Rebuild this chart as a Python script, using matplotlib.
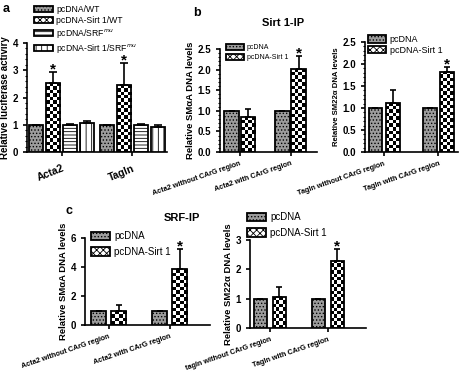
import numpy as np
import matplotlib
matplotlib.use("Agg")
import matplotlib.pyplot as plt
from matplotlib.ticker import AutoMinorLocator, FormatStrFormatter
from matplotlib.patches import Rectangle

plt.rcParams['font.family'] = ['Liberation Sans', 'DejaVu Sans']
plt.rcParams['hatch.linewidth'] = 0.6

# ---------------- data ----------------
a_groups = ["Acta2", "Tagln"]
a_series = ["pcDNA/WT", "pcDNA-Sirt 1/WT", "pcDNA/SRF$^{mu}$", "pcDNA-Sirt 1/SRF$^{mu}$"]
a_vals = [[1.0, 1.0], [2.52, 2.45], [1.0, 1.0], [1.08, 0.93]]
a_errs = [[0.0, 0.0], [0.42, 0.82], [0.02, 0.03], [0.06, 0.07]]

b1_groups = ["Acta2 without CArG region", "Acta2 with CArG region"]
b1_vals = [[1.0, 1.0], [0.85, 2.02]]
b1_errs = [[0.0, 0.0], [0.20, 0.32]]

b2_groups = ["Tagln without CArG region", "Tagln with CArG region"]
b2_vals = [[1.0, 1.0], [1.12, 1.82]]
b2_errs = [[0.0, 0.0], [0.30, 0.12]]

c1_groups = ["Acta2 without CArG region", "Acta2 with CArG region"]
c1_vals = [[1.0, 1.0], [1.0, 3.85]]
c1_errs = [[0.0, 0.0], [0.35, 1.40]]

c2_groups = ["tagln without CArG region", "Tagln with CArG region"]
c2_vals = [[1.0, 1.0], [1.05, 2.30]]
c2_errs = [[0.0, 0.0], [0.35, 0.40]]

ip_series = ["pcDNA", "pcDNA-Sirt 1"]
star_a = [(1, 0), (1, 1)]
star_b1 = [(1, 1)]
star_b2 = [(1, 1)]
star_c1 = [(1, 1)]
star_c2 = [(1, 1)]

W, H = 474, 374
fig = plt.figure(figsize=(W / 100, H / 100), dpi=100)

CHECKER_BARS = []


def add_ax(x0, x1, ytop, ybot):
    return fig.add_axes([x0 / W, 1 - ybot / H, (x1 - x0) / W, (ybot - ytop) / H])


def checker(ax, bar, cell_px=3.4):
    bb = bar.get_window_extent()
    nx = max(2, int(round(bb.width / cell_px)))
    ny = max(2, int(round(bb.height / cell_px)))
    img = (np.add.outer(np.arange(ny), np.arange(nx)) % 2).astype(float)
    x0, y0 = bar.get_x(), bar.get_y()
    w, h = bar.get_width(), bar.get_height()
    xl, yl = ax.get_xlim(), ax.get_ylim()
    im = ax.imshow(img, cmap='gray', vmin=0, vmax=1, extent=[x0, x0 + w, y0, y0 + h],
                   origin='lower', interpolation='nearest', aspect='auto', zorder=2.5)
    im.set_clip_path(bar)
    ax.set_xlim(xl)
    ax.set_ylim(yl)


STYLES = [
    dict(facecolor='#9c9c9c', hatch='.....', edgecolor='black'),
    dict(facecolor='none', hatch='', edgecolor='black'),
    dict(facecolor='white', hatch='-----', edgecolor='black'),
    dict(facecolor='white', hatch='|||', edgecolor='black'),
]


def draw(ax, groups, vals, errs, offsets, width, styles_idx, labels, ylim, yticks,
         ylabel, xlim, stars, ylabel_size=7, minor=False, rot=20, tick_fs=6.2, xpad=3,
         capsize=2.5):
    x = np.arange(len(groups))
    for s, (v, e) in enumerate(zip(vals, errs)):
        st = STYLES[styles_idx[s]]
        bars = ax.bar(x + offsets[s], v, width, facecolor=st['facecolor'], hatch=st['hatch'],
                      edgecolor=st['edgecolor'], linewidth=1.3, zorder=3, label=labels[s])
        ax.errorbar(x + offsets[s], v, yerr=[np.zeros(len(v)), e], fmt='none',
                    ecolor='black', elinewidth=1.2, capsize=capsize, capthick=1.2, zorder=4)
        if styles_idx[s] == 1:
            for b in bars:
                CHECKER_BARS.append((ax, b))
    for (s, g) in stars:
        ax.annotate("*", (x[g] + offsets[s], vals[s][g] + errs[s][g]),
                    xytext=(0, -1.0), textcoords='offset points', ha='center', va='baseline',
                    fontsize=11, fontweight='bold')
    ax.set_xlim(*xlim)
    ax.set_ylim(*ylim)
    ax.set_yticks(yticks)
    if minor:
        ax.yaxis.set_minor_locator(AutoMinorLocator(5))
    for sp in ['top', 'right']:
        ax.spines[sp].set_visible(False)
    for sp in ['left', 'bottom']:
        ax.spines[sp].set_linewidth(1.2)
    ax.tick_params(axis='both', width=1.2, length=3)
    ax.tick_params(axis='y', labelsize=7)
    ax.tick_params(axis='y', which='minor', width=0.8, length=1.8)
    ax.tick_params(axis='x', pad=xpad)
    ax.set_xticks(x)
    ax.set_xticklabels(groups, rotation=rot, ha='right', rotation_mode='anchor',
                       fontsize=tick_fs, fontweight='bold')
    for lab in ax.get_yticklabels():
        lab.set_fontweight('bold')
    ax.set_ylabel(ylabel, fontsize=ylabel_size, fontweight='bold', labelpad=2)


# ---------- panel a ----------
ax_a = add_ax(27, 167, 43, 152)
draw(ax_a, a_groups, a_vals, a_errs, [-0.36, -0.12, 0.12, 0.36], 0.2, [0, 1, 2, 3],
     a_series, (0, 4), [0, 1, 2, 3, 4], "Relative luciferase activiry", (-0.49, 1.49),
     star_a, ylabel_size=7, minor=True, rot=22, tick_fs=7.5, xpad=5, capsize=3.2)

# ---------- panel b ----------
ax_b1 = add_ax(220, 317, 49, 152)
draw(ax_b1, b1_groups, b1_vals, b1_errs, [-0.16, 0.16], 0.29, [0, 1], ip_series,
     (0, 2.5), [0.0, 0.5, 1.0, 1.5, 2.0, 2.5], "Relative SM\u03b1A DNA levels",
     (-0.39, 1.52), star_b1, ylabel_size=6.8, minor=True, rot=19, tick_fs=5.2)
ax_b1.yaxis.set_major_formatter(FormatStrFormatter('%.1f'))

ax_b2 = add_ax(365, 458, 42, 152)
draw(ax_b2, b2_groups, b2_vals, b2_errs, [-0.16, 0.16], 0.25, [0, 1], ip_series,
     (0, 2.5), [0.0, 0.5, 1.0, 1.5, 2.0, 2.5], "Relative SM22\u03b1 DNA levels",
     (-0.35, 1.36), star_b2, ylabel_size=5.6, minor=True, rot=19, tick_fs=5.2)
ax_b2.yaxis.set_major_formatter(FormatStrFormatter('%.1f'))

# ---------- panel c ----------
ax_c1 = add_ax(85, 210, 238, 325)
draw(ax_c1, c1_groups, c1_vals, c1_errs, [-0.164, 0.164], 0.25, [0, 1], ip_series,
     (0, 6), [0, 2, 4, 6], "Relative SM\u03b1A DNA levels",
     (-0.385, 1.66), star_c1, ylabel_size=6.8, rot=19, tick_fs=5.2)

ax_c2 = add_ax(250, 366, 240, 328)
draw(ax_c2, c2_groups, c2_vals, c2_errs, [-0.164, 0.164], 0.22, [0, 1], ip_series,
     (0, 3), [0, 1, 2, 3], "Relative SM22\u03b1 DNA levels",
     (-0.34, 1.66), star_c2, ylabel_size=6.8, rot=19, tick_fs=5.2)

# ---------- checkerboard fill (after layout is fixed) ----------
fig.canvas.draw()
for ax, b in CHECKER_BARS:
    checker(ax, b)


# ---------- legends ----------
def make_legend(labels, idx, x_px, y_px, fs, spacing, hl=2.2, hh=0.9):
    handles = []
    for i in idx:
        st = STYLES[i]
        if i == 1:
            handles.append(Rectangle((0, 0), 1, 1, facecolor='white', hatch='xxxxx',
                                     edgecolor='black', linewidth=1.3))
        else:
            handles.append(Rectangle((0, 0), 1, 1, facecolor=st['facecolor'], hatch=st['hatch'],
                                     edgecolor='black', linewidth=1.3))
    fig.legend(handles, labels, loc='upper left',
               bbox_to_anchor=(x_px / W, 1 - y_px / H), frameon=False, fontsize=fs,
               handlelength=hl, handleheight=hh, labelspacing=spacing,
               handletextpad=0.4, borderaxespad=0, borderpad=0)


make_legend(a_series, [0, 1, 2, 3], 34, 5, 6.2, 0.22, hl=2.2, hh=0.7)
make_legend(ip_series, [0, 1], 226, 44, 5.0, 0.4, hl=2.6, hh=0.9)
make_legend(ip_series, [0, 1], 368, 35, 6.5, 0.2, hl=2.0)
make_legend(ip_series, [0, 1], 91, 231, 7.0, 0.6, hl=2.0)
make_legend(ip_series, [0, 1], 247, 212, 7.0, 0.6, hl=2.0)

# ---------- titles / letters ----------
fig.text(3 / W, 1 - 9 / H, "a", fontsize=9, fontweight='bold', va='center')
fig.text(193 / W, 1 - 13 / H, "b", fontsize=9, fontweight='bold', va='center')
fig.text(283 / W, 1 - 23 / H, "Sirt 1-IP", fontsize=8, fontweight='bold', ha='center', va='center')
fig.text(65 / W, 1 - 211 / H, "c", fontsize=9, fontweight='bold', va='center')
fig.text(182 / W, 1 - 218 / H, "SRF-IP", fontsize=8, fontweight='bold', ha='center', va='center')

fig.savefig("out.png", dpi=100)
